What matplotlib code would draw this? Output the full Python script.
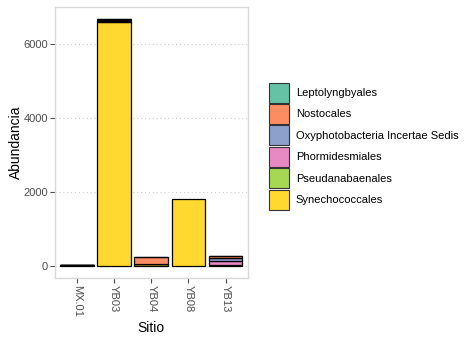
import matplotlib
matplotlib.use("Agg")
import matplotlib.pyplot as plt
from matplotlib.patches import Patch
import numpy as np

plt.rcParams['font.family'] = ['Liberation Sans', 'DejaVu Sans']

sitios = ["MX.01", "YB03", "YB04", "YB08", "YB13"]
ordenes = ["Leptolyngbyales", "Nostocales", "Oxyphotobacteria Incertae Sedis",
           "Phormidesmiales", "Pseudanabaenales", "Synechococcales"]
colores = ["#66C2A5", "#FC8D62", "#8DA0CB", "#E78AC3", "#A6D854", "#FFD92F"]

leptolyngbyales = [2, 10, 5, 0, 5]
nostocales = [4, 25, 170, 0, 50]
oxyphotobacteria = [3, 15, 5, 0, 100]
phormidesmiales = [3, 10, 5, 0, 90]
pseudanabaenales = [4, 20, 5, 0, 5]
synechococcales = [12, 6590, 40, 1800, 20]

valores = [leptolyngbyales, nostocales, oxyphotobacteria,
           phormidesmiales, pseudanabaenales, synechococcales]

fig = plt.figure(figsize=(4.74, 3.39), dpi=100)
ax = fig.add_axes([0.115, 0.18, 0.408, 0.80])

x = np.arange(len(sitios))
base = np.zeros(len(sitios))
# stack from the last level (bottom) to the first (top)
for vals, col in zip(valores[::-1], colores[::-1]):
    v = np.array(vals, dtype=float)
    keep = v > 0
    ax.bar(x[keep], v[keep], width=0.9, bottom=base[keep], color=col,
           edgecolor="black", linewidth=0.9, zorder=3)
    base += v

ax.set_xlim(-0.6, len(sitios) - 0.4)
ymax = base.max()
ax.set_ylim(-0.05 * ymax, ymax * 1.05)
ax.set_yticks([0, 2000, 4000, 6000])
ax.set_xticks(x)
ax.set_xticklabels(sitios, rotation=270)

ax.yaxis.grid(True, linestyle=(0, (1, 2.5)), color="#CCCCCC", linewidth=0.8, zorder=0)
ax.xaxis.grid(False)

for s in ax.spines.values():
    s.set_color("#D9D9D9")
    s.set_linewidth(1.0)

ax.tick_params(axis="both", colors="#4D4D4D", labelsize=8, length=3.3, width=0.8,
               labelcolor="#4D4D4D", pad=1.5)

ax.set_xlabel("Sitio", fontsize=10, color="black", labelpad=3)
ax.set_ylabel("Abundancia", fontsize=10, color="black")
ax.yaxis.set_label_coords(-0.163, 0.5)

handles = [Patch(facecolor=c, edgecolor="#333333", linewidth=0.8) for c in colores]
fig.legend(handles, ordenes, loc="center left", bbox_to_anchor=(0.568, 0.569),
           frameon=False, fontsize=8, handlelength=1.8, handleheight=2.4,
           labelspacing=0.12, handletextpad=0.6, borderpad=0, borderaxespad=0)

fig.savefig("out.png", dpi=100)
